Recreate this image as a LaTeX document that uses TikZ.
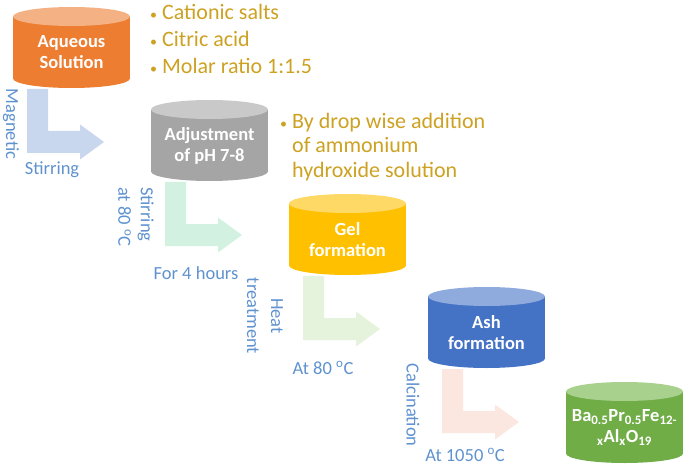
\documentclass[tikz,border=0pt]{standalone}
\usepackage{fontspec}
\setmainfont{Carlito}
\definecolor{corange}{HTML}{ED7D31}
\definecolor{corangetop}{HTML}{F4B183}
\definecolor{cgrey}{HTML}{A5A5A5}
\definecolor{cgreytop}{HTML}{C9C9C9}
\definecolor{cyellow}{HTML}{FFC000}
\definecolor{cyellowtop}{HTML}{FFD966}
\definecolor{cblue}{HTML}{4472C4}
\definecolor{cbluetop}{HTML}{8FAADC}
\definecolor{cgreen}{HTML}{70AD47}
\definecolor{cgreentop}{HTML}{A9D18E}
\definecolor{arrA}{HTML}{C9D7EE}
\definecolor{arrB}{HTML}{D3F1E1}
\definecolor{arrC}{HTML}{E6F3DC}
\definecolor{arrD}{HTML}{FBE7E0}
\definecolor{labblue}{HTML}{5F92CF}
\definecolor{gold}{HTML}{CDA122}
\newcommand\mycyl[6]{%
 \fill[#4] (#2,#3+9.5) rectangle (#2+117,#3+71.5);
 \fill[#4] (#2+58.5,#3+71.5) ellipse[x radius=58.5pt, y radius=9.5pt];
 \fill[#5] (#2+58.5,#3+9.5) ellipse[x radius=58.5pt, y radius=9.5pt];
 \node[cyltext] (#1) at (#2+58.5,#3+45.5) {#6};
}
\newcommand\myblockarrow[3]{%
 \fill[#3] (#1+14,#2+1) -- (#1+35,#2+1) -- (#1+35,#2+43) -- (#1+67,#2+43)
   -- (#1+67,#2+36.5) -- (#1+91,#2+54) -- (#1+67,#2+71.5) -- (#1+67,#2+65)
   -- (#1+14,#2+65) -- cycle;
}
\begin{document}
\begin{tikzpicture}[x=1pt,y=-1pt,
  cyltext/.style={text=white, font=\fontsize{18.5}{21}\selectfont\bfseries, align=center, inner sep=0pt},
  lbl/.style={text=labblue, font=\fontsize{18.5}{22.5}\selectfont, inner sep=0pt},
  bul/.style={text=gold, font=\fontsize{22}{27}\selectfont, inner sep=0pt, anchor=north west}]
\useasboundingbox (0,0) rectangle (685,465);

\myblockarrow{13}{88}{arrA}
\myblockarrow{151}{181}{arrB}
\myblockarrow{289}{275}{arrC}
\myblockarrow{428}{368}{arrD}

\mycyl{c1}{13}{7}{corange}{corangetop}{Aqueous\\Solution}
\mycyl{c2}{151}{100}{cgrey}{cgreytop}{Adjustment\\of pH 7-8}
\mycyl{c3}{289}{194}{cyellow}{cyellowtop}{Gel\\formation}
\mycyl{c4}{428}{287}{cblue}{cbluetop}{Ash\\formation}
\mycyl{c5}{566}{382}{cgreen}{cgreentop}{Ba\textsubscript{0.5}Pr\textsubscript{0.5}Fe\textsubscript{12-}\\\textsubscript{x}Al\textsubscript{x}O\textsubscript{19}}

\node[bul] (b1) at (150,0) {\begin{tabular}{@{}l@{\hspace{5pt}}l@{}}
  \fontsize{14}{14}\selectfont•&Cationic salts\\
  \fontsize{14}{14}\selectfont•&Citric acid\\
  \fontsize{14}{14}\selectfont•&Molar ratio 1:1.5\end{tabular}};
\node[bul, font=\fontsize{22}{24.5}\selectfont] (b2) at (280,111) {\begin{tabular}{@{}l@{\hspace{5pt}}l@{}}
  \fontsize{14}{14}\selectfont•&By drop wise addition\\
  &of ammonium\\
  &hydroxide solution\end{tabular}};

\node[lbl, rotate=-90] (l1) at (11,124) {Magnetic};
\node[lbl] (l2) at (52,170) {Stirring};
\node[lbl, rotate=-90, anchor=west, align=left] (l3) at (136,187) {Stirring\\at 80 \textsuperscript{o}C};
\node[lbl] (l4) at (196,273) {For 4 hours};
\node[lbl, rotate=-90, align=center, font=\fontsize{18.5}{24}\selectfont] (l5) at (265,316) {Heat\\treatment};
\node[lbl] (l6) at (323,368) {At 80 \textsuperscript{o}C};
\node[lbl, rotate=-90] (l7) at (413,405) {Calcination};
\node[lbl] (l8) at (465,455) {At 1050 \textsuperscript{o}C};
\end{tikzpicture}
\end{document}
